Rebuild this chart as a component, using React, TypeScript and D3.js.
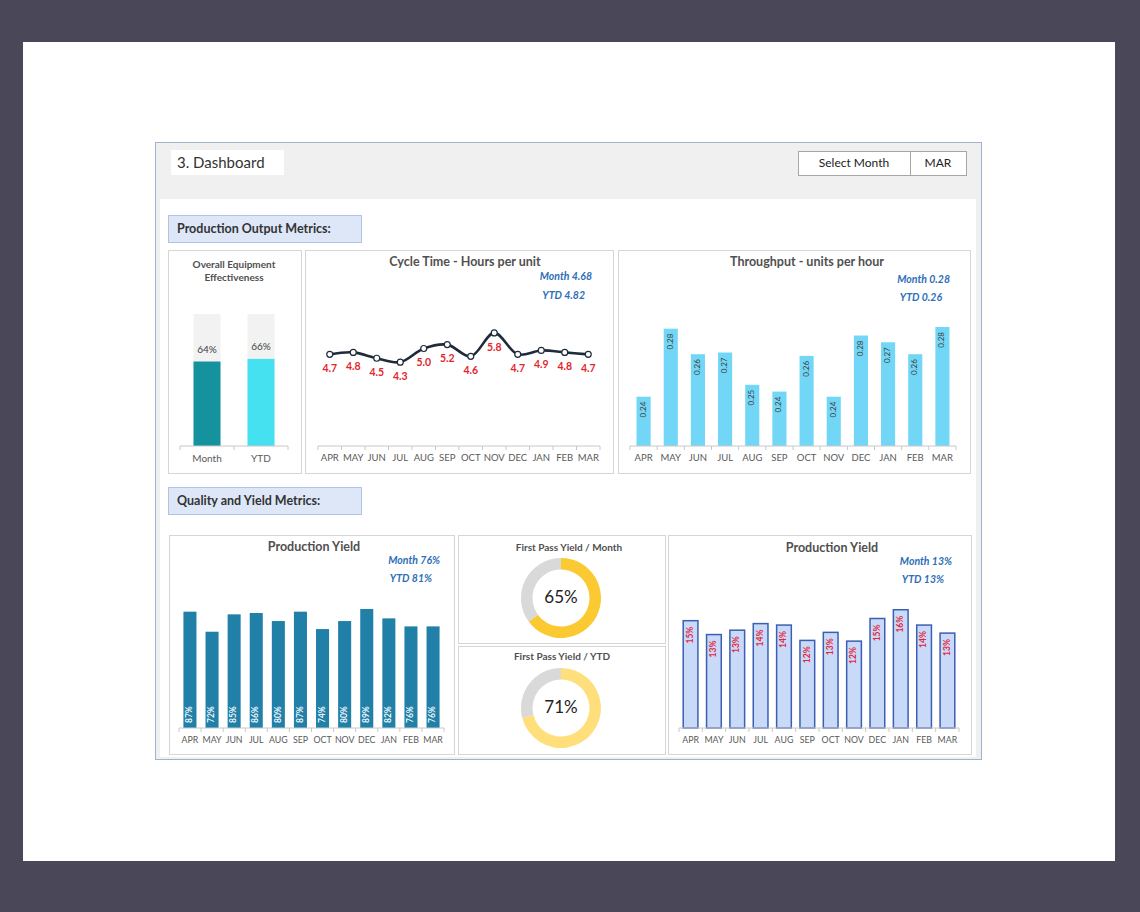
import { useEffect, useRef } from 'react';
import * as d3 from 'd3';

// data
const months = ['APR', 'MAY', 'JUN', 'JUL', 'AUG', 'SEP', 'OCT', 'NOV', 'DEC', 'JAN', 'FEB', 'MAR'];
const oeeLabels = ['Month', 'YTD'];
const oeeValues = [0.64, 0.66];
const cycleTime = [4.7, 4.8, 4.5, 4.3, 5.0, 5.2, 4.6, 5.8, 4.7, 4.9, 4.8, 4.7];
const throughput = [0.239, 0.279, 0.264, 0.265, 0.246, 0.242, 0.263, 0.239, 0.275, 0.271, 0.264, 0.28];
const prodYield = [0.87, 0.72, 0.85, 0.86, 0.8, 0.87, 0.74, 0.8, 0.89, 0.82, 0.76, 0.76];
const scrapYield = [0.147, 0.128, 0.134, 0.143, 0.141, 0.12, 0.131, 0.119, 0.15, 0.162, 0.141, 0.13];
const fpyMonth = 0.65;
const fpyYtd = 0.71;

const FONT = 'Lato, "Open Sans", sans-serif';
const BLUE = '#2e6fb7';

const App = () => {
  const svgRef = useRef(null);

  useEffect(() => {
    const svg = d3.select(svgRef.current);
    svg.selectAll('*').remove();

    // background + card + frame
    svg.append('rect').attr('width', 1140).attr('height', 912).attr('fill', '#4a4858');
    svg.append('rect').attr('x', 23).attr('y', 42).attr('width', 1092).attr('height', 819).attr('fill', '#ffffff');
    svg.append('rect').attr('x', 155.5).attr('y', 142.5).attr('width', 826).attr('height', 617)
      .attr('fill', '#f0f0f0').attr('stroke', '#9fb3cf');
    svg.append('rect').attr('x', 160).attr('y', 199).attr('width', 816).attr('height', 558).attr('fill', '#ffffff');

    // header
    svg.append('rect').attr('x', 171).attr('y', 150).attr('width', 113).attr('height', 25).attr('fill', '#ffffff');
    svg.append('text').attr('x', 177).attr('y', 164).attr('dominant-baseline', 'middle')
      .style('font-family', FONT).style('font-size', '15px').attr('fill', '#333').text('3. Dashboard');
    svg.append('rect').attr('x', 798.5).attr('y', 151.5).attr('width', 112).attr('height', 24)
      .attr('fill', '#fff').attr('stroke', '#a6a6a6');
    svg.append('rect').attr('x', 910.5).attr('y', 151.5).attr('width', 56).attr('height', 24)
      .attr('fill', '#fff').attr('stroke', '#a6a6a6');
    svg.append('text').attr('x', 854).attr('y', 163.5).attr('text-anchor', 'middle').attr('dominant-baseline', 'middle')
      .style('font-family', FONT).style('font-size', '12px').attr('fill', '#222').text('Select Month');
    svg.append('text').attr('x', 938).attr('y', 163.5).attr('text-anchor', 'middle').attr('dominant-baseline', 'middle')
      .style('font-family', FONT).style('font-size', '12px').attr('fill', '#222').text('MAR');

    const sectionBox = (y, label) => {
      svg.append('rect').attr('x', 168.5).attr('y', y + 0.5).attr('width', 193).attr('height', 27)
        .attr('fill', '#dde7f8').attr('stroke', '#b3c4e2');
      svg.append('text').attr('x', 177).attr('y', y + 15).attr('dominant-baseline', 'middle')
        .style('font-family', FONT).style('font-size', '12.5px').style('font-weight', 700)
        .attr('fill', '#333').text(label);
    };
    sectionBox(215, 'Production Output Metrics:');
    sectionBox(487, 'Quality and Yield Metrics:');

    const panel = (x, y, w, h) => {
      svg.append('rect').attr('x', x + 0.5).attr('y', y + 0.5).attr('width', w).attr('height', h)
        .attr('fill', '#fff').attr('stroke', '#d6d6d6');
    };
    panel(168, 250, 133, 223);
    panel(305, 250, 308, 223);
    panel(618, 250, 352, 223);
    panel(169, 535, 285, 219);
    panel(458, 535, 207, 108);
    panel(458, 646, 207, 108);
    panel(668, 535, 303, 219);

    const title = (x, y, t, size = 12.5) => {
      svg.append('text').attr('x', x).attr('y', y).attr('text-anchor', 'middle').attr('dominant-baseline', 'middle')
        .style('font-family', FONT).style('font-size', `${size}px`).style('font-weight', 700)
        .attr('fill', '#505050').text(t);
    };
    const kpi = (xEnd, y, t) => {
      svg.append('text').attr('x', xEnd).attr('y', y).attr('text-anchor', 'end').attr('dominant-baseline', 'middle')
        .style('font-family', FONT).style('font-size', '10.5px').style('font-weight', 700).style('font-style', 'italic')
        .attr('fill', BLUE).text(t);
    };

    // excel-style category axis: baseline, ticks between categories, labels
    const categoryAxis = (x, y, domain, fontSize = 9.5) => {
      const g = svg.append('g').attr('transform', `translate(0,${y})`);
      g.append('line').attr('x1', x.range()[0]).attr('x2', x.range()[1]).attr('stroke', '#c8c8c8');
      const step = (x.range()[1] - x.range()[0]) / domain.length;
      const start = x.range()[0];
      d3.range(domain.length + 1).forEach((i) => {
        g.append('line').attr('x1', start + i * step).attr('x2', start + i * step).attr('y1', 0).attr('y2', 4).attr('stroke', '#c8c8c8');
      });
      domain.forEach((d) => {
        g.append('text').attr('x', x(d) + x.bandwidth() / 2).attr('y', 13).attr('text-anchor', 'middle')
          .attr('dominant-baseline', 'middle').style('font-family', FONT).style('font-size', `${fontSize}px`)
          .attr('fill', '#595959').text(d);
      });
    };

    // ---- OEE
    title(234, 265, 'Overall Equipment', 10);
    title(234, 278, 'Effectiveness', 10);
    const oeeX = d3.scaleBand().domain(oeeLabels).range([180, 288]).paddingInner(0.5).paddingOuter(0.25);
    const oeeY = d3.scaleLinear().domain([0, 1]).range([446, 314]);
    const oeeColors = ['#14939f', '#45e1f0'];
    oeeLabels.forEach((d, i) => {
      svg.append('rect').attr('x', oeeX(d)).attr('y', oeeY(1)).attr('width', oeeX.bandwidth())
        .attr('height', oeeY(0) - oeeY(1)).attr('fill', '#f2f2f2');
      svg.append('rect').attr('x', oeeX(d)).attr('y', oeeY(oeeValues[i])).attr('width', oeeX.bandwidth())
        .attr('height', oeeY(0) - oeeY(oeeValues[i])).attr('fill', oeeColors[i]);
      svg.append('text').attr('x', oeeX(d) + oeeX.bandwidth() / 2).attr('y', oeeY(oeeValues[i]) - 11)
        .attr('text-anchor', 'middle').attr('dominant-baseline', 'middle')
        .style('font-family', FONT).style('font-size', '10px').attr('fill', '#404040')
        .text(`${Math.round(oeeValues[i] * 100)}%`);
    });
    categoryAxis(oeeX, 446, oeeLabels, 10);

    // ---- Cycle time line
    title(465, 263, 'Cycle Time - Hours per unit');
    kpi(592, 277, 'Month 4.68');
    kpi(585, 296, 'YTD 4.82');
    const ctX = d3.scaleBand().domain(months).range([318, 600]);
    const ctY = d3.scaleLinear().domain([0, 10]).range([446, 251]);
    const cx = (i) => ctX(months[i]) + ctX.bandwidth() / 2;
    const line = d3.line().curve(d3.curveCatmullRom.alpha(0.5)).x((d, i) => cx(i)).y((d) => ctY(d));
    svg.append('path').attr('d', line(cycleTime)).attr('fill', 'none').attr('stroke', '#1f2b3a').attr('stroke-width', 2.6);
    cycleTime.forEach((v, i) => {
      svg.append('circle').attr('cx', cx(i)).attr('cy', ctY(v)).attr('r', 3)
        .attr('fill', '#fff').attr('stroke', '#1f2b3a').attr('stroke-width', 1.2);
      svg.append('text').attr('x', cx(i)).attr('y', ctY(v) + 15).attr('text-anchor', 'middle')
        .attr('dominant-baseline', 'middle').style('font-family', FONT).style('font-size', '10.5px')
        .style('font-weight', 700).attr('fill', '#e3262d').text(v.toFixed(1));
    });
    categoryAxis(ctX, 446, months);

    // ---- Throughput
    title(807, 263, 'Throughput - units per hour');
    kpi(950, 280, 'Month 0.28');
    kpi(942, 298, 'YTD 0.26');
    const tpX = d3.scaleBand().domain(months).range([630, 956]).paddingInner(0.48).paddingOuter(0.24);
    const tpY = d3.scaleLinear().domain([0.21, 0.3]).range([446, 293]);
    throughput.forEach((v, i) => {
      const x = tpX(months[i]);
      svg.append('rect').attr('x', x).attr('y', tpY(v)).attr('width', tpX.bandwidth())
        .attr('height', tpY(0.21) - tpY(v)).attr('fill', '#72d7f7');
      svg.append('text').attr('transform', `translate(${x + tpX.bandwidth() / 2},${tpY(v) + 5}) rotate(-90)`)
        .attr('text-anchor', 'end').attr('dominant-baseline', 'middle')
        .style('font-family', FONT).style('font-size', '8px').attr('fill', '#404040').text(v.toFixed(2));
    });
    categoryAxis(tpX, 446, months);

    // ---- Production yield (left)
    title(314, 548, 'Production Yield');
    kpi(440, 561, 'Month 76%');
    kpi(432, 579, 'YTD 81%');
    const pyX = d3.scaleBand().domain(months).range([179, 444]).paddingInner(0.41).paddingOuter(0.2);
    const pyY = d3.scaleLinear().domain([0, 1]).range([728, 594.3]);
    prodYield.forEach((v, i) => {
      const x = pyX(months[i]);
      svg.append('rect').attr('x', x).attr('y', pyY(v)).attr('width', pyX.bandwidth())
        .attr('height', pyY(0) - pyY(v)).attr('fill', '#2180a8');
      svg.append('text').attr('transform', `translate(${x + pyX.bandwidth() / 2},${pyY(0) - 5}) rotate(-90)`)
        .attr('text-anchor', 'start').attr('dominant-baseline', 'middle')
        .style('font-family', FONT).style('font-size', '8.5px').style('font-weight', 600)
        .attr('fill', '#ffffff').text(`${Math.round(v * 100)}%`);
    });
    categoryAxis(pyX, 728, months, 8.8);

    // ---- Donuts
    const pie = d3.pie().sort(null).value((d) => d);
    const arc = d3.arc().innerRadius(28.5).outerRadius(40);
    const donut = (cxp, cyp, value, color, label) => {
      const g = svg.append('g').attr('transform', `translate(${cxp},${cyp})`);
      g.selectAll('path').data(pie([value, 1 - value])).enter().append('path')
        .attr('d', arc).attr('fill', (d, i) => (i === 0 ? color : '#d9d9d9'));
      g.append('text').attr('y', 1).attr('text-anchor', 'middle').attr('dominant-baseline', 'middle')
        .style('font-family', FONT).style('font-size', '17px').attr('fill', '#222').text(label);
    };
    title(569, 548, 'First Pass Yield / Month', 10);
    donut(561, 598, fpyMonth, '#fbc932', `${Math.round(fpyMonth * 100)}%`);
    title(562, 657, 'First Pass Yield / YTD', 10);
    donut(561, 708, fpyYtd, '#ffdf7c', `${Math.round(fpyYtd * 100)}%`);

    // ---- Production yield (right)
    title(832, 549, 'Production Yield');
    kpi(952, 562, 'Month 13%');
    kpi(944, 580, 'YTD 13%');
    const ryX = d3.scaleBand().domain(months).range([679, 959]).paddingInner(0.37).paddingOuter(0.18);
    const ryY = d3.scaleLinear().domain([0, 0.2]).range([728, 582]);
    scrapYield.forEach((v, i) => {
      const x = ryX(months[i]);
      svg.append('rect').attr('x', x).attr('y', ryY(v)).attr('width', ryX.bandwidth())
        .attr('height', ryY(0) - ryY(v)).attr('fill', '#c9daf8').attr('stroke', '#3b5fb3').attr('stroke-width', 1.5);
      svg.append('text').attr('transform', `translate(${x + ryX.bandwidth() / 2},${ryY(v) + 6}) rotate(-90)`)
        .attr('text-anchor', 'end').attr('dominant-baseline', 'middle')
        .style('font-family', FONT).style('font-size', '8.5px').style('font-weight', 700)
        .attr('fill', '#e5263d').text(`${Math.round(v * 100)}%`);
    });
    categoryAxis(ryX, 728, months, 8.8);
  }, []);

  return (
    <div style={{ position: 'absolute', left: 0, top: 0 }}>
      <svg ref={svgRef} width={1140} height={912} style={{ display: 'block' }}></svg>
    </div>
  );
};

export default App;
